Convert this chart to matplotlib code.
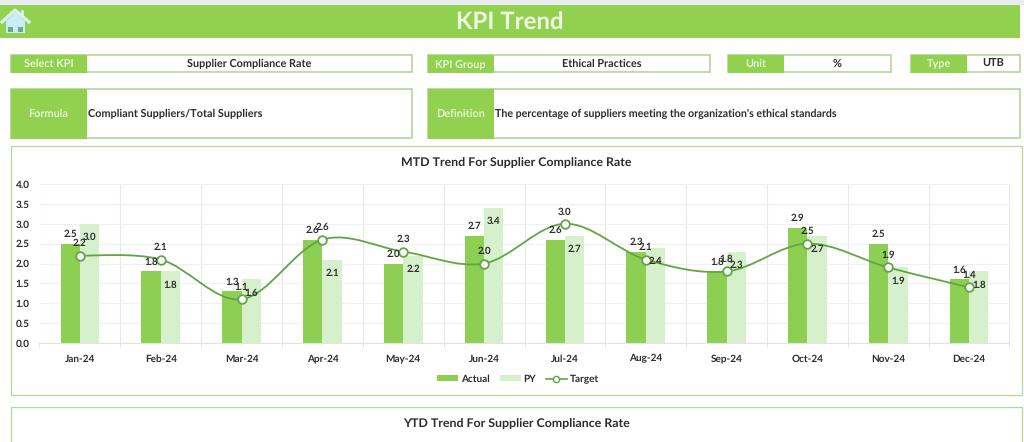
import matplotlib
matplotlib.use('Agg')
import matplotlib.pyplot as plt
from matplotlib.lines import Line2D
from matplotlib.patches import PathPatch, Polygon, Rectangle
from matplotlib.path import Path
import numpy as np

plt.rcParams['font.family'] = ['Lato', 'DejaVu Sans']
plt.rcParams['text.hinting'] = 'none'

months = ['Jan-24', 'Feb-24', 'Mar-24', 'Apr-24', 'May-24', 'Jun-24',
          'Jul-24', 'Aug-24', 'Sep-24', 'Oct-24', 'Nov-24', 'Dec-24']
actual = [2.5, 1.8, 1.3, 2.6, 2.0, 2.7, 2.6, 2.3, 1.8, 2.9, 2.5, 1.6]
py = [3.0, 1.8, 1.6, 2.1, 2.2, 3.4, 2.7, 2.4, 2.3, 2.7, 1.9, 1.8]
target = [2.2, 2.1, 1.1, 2.6, 2.3, 2.0, 3.0, 2.1, 1.8, 2.5, 1.9, 1.4]
y_ticks = [0.0, 0.5, 1.0, 1.5, 2.0, 2.5, 3.0, 3.5, 4.0]

GREEN = '#92d050'
BORDER = '#b5d69c'
ACTUAL_C = '#8ccf52'
PY_C = '#d6f0cc'
LINE_C = '#62a544'
TEXT_C = '#2b2b2b'

W, H = 1024, 442


def smooth_path(xs, ys):
    # same cubic segments a spreadsheet uses for a smoothed line
    verts = [(xs[0], ys[0])]
    codes = [Path.MOVETO]
    n = len(xs)
    for i in range(n - 1):
        a, b = max(i - 1, 0), min(i + 2, n - 1)
        verts.append((xs[i] + (xs[i + 1] - xs[a]) / 6, ys[i] + (ys[i + 1] - ys[a]) / 6))
        verts.append((xs[i + 1] - (xs[b] - xs[i]) / 6, ys[i + 1] - (ys[b] - ys[i]) / 6))
        verts.append((xs[i + 1], ys[i + 1]))
        codes += [Path.CURVE4] * 3
    return Path(verts, codes)


def field(page, x0, x1, split, y0, y1, label, value, left_align=False, size=7.8):
    page.add_patch(Rectangle((x0, y0), x1 - x0, y1 - y0, fc='white', ec=BORDER, lw=1.2))
    page.add_patch(Rectangle((x0, y0), split - x0, y1 - y0, fc=GREEN, ec=GREEN, lw=0.8))
    page.text((x0 + split) / 2, (y0 + y1) / 2 + 0.5, label, color='#e4f5d4', fontsize=7.8,
              fontweight='bold', ha='center', va='center')
    if left_align:
        page.text(split + 2, (y0 + y1) / 2 + 0.5, value, color=TEXT_C, fontsize=size,
                  fontweight='bold', ha='left', va='center')
    else:
        page.text((split + x1) / 2, (y0 + y1) / 2 + 0.5, value, color=TEXT_C, fontsize=size,
                  fontweight='bold', ha='center', va='center')


fig = plt.figure(figsize=(W / 100, H / 100), dpi=100, facecolor='white')

# page layer in pixel coordinates, y going down
page = fig.add_axes([0, 0, 1, 1])
page.set_xlim(0, W)
page.set_ylim(H, 0)
page.axis('off')

page.add_patch(Rectangle((0, 0), W, 5, fc='#e8ecef', ec='none'))
page.add_patch(Rectangle((0, 5), 1020, 33, fc=GREEN, ec='none'))
page.text(510, 23, 'KPI Trend', color='#eef8e4', fontsize=17.3, fontweight='bold',
          ha='center', va='center')

# home icon
page.add_patch(Polygon([(6, 21), (15, 12), (25, 21), (25, 33), (6, 33)], fc='#c9edf2', ec='none'))
page.add_line(Line2D([2, 15, 29], [22, 10, 22], color='#d8f0ee', lw=2.4))
page.add_line(Line2D([22, 22], [11, 16], color='#d8f0ee', lw=2))
page.add_patch(Rectangle((8, 27), 5, 5, fc='#6da892', ec='none'))
page.add_patch(Rectangle((18, 27), 5, 5, fc='#6da892', ec='none'))

field(page, 11, 412, 86, 55, 72, 'Select KPI', 'Supplier Compliance Rate')
field(page, 428, 710, 493, 55, 72, 'KPI Group', 'Ethical Practices')
field(page, 728, 891, 783, 55, 72, 'Unit', '%')
field(page, 911, 1020, 966, 55, 72, 'Type', 'UTB')
field(page, 11, 412, 86, 89, 138, 'Formula', 'Compliant Suppliers/Total Suppliers', True)
field(page, 428, 1020, 493, 89, 138, 'Definition',
      "The percentage of suppliers meeting the organization's ethical standards", True, size=7.7)

page.add_patch(Rectangle((11, 146), 1011, 249, fc='white', ec=BORDER, lw=0.9))
page.add_patch(Rectangle((11, 407), 1011, 60, fc='white', ec=BORDER, lw=0.9))
page.text(516, 163, 'MTD Trend For Supplier Compliance Rate', color=TEXT_C, fontsize=8.9,
          fontweight='bold', ha='center', va='center')
page.text(516, 424, 'YTD Trend For Supplier Compliance Rate', color=TEXT_C, fontsize=8.9,
          fontweight='bold', ha='center', va='center')

# chart
ax = fig.add_axes([39.5 / W, 1 - 343 / H, 970 / W, 159 / H], facecolor='none')
x = np.arange(len(months))
bar_w = 0.24
bars_a = ax.bar(x - bar_w / 2, actual, bar_w, color=ACTUAL_C, label='Actual', zorder=2)
bars_p = ax.bar(x + bar_w / 2, py, bar_w, color=PY_C, label='PY', zorder=2)
ax.add_patch(PathPatch(smooth_path(x, target), fc='none', ec=LINE_C, lw=1.3, zorder=3))
ax.plot(x, target, ls='none', marker='o', ms=6.2, mfc='white', mec=LINE_C, mew=1.3, zorder=4)

ax.bar_label(bars_a, fmt='%.1f', padding=3.5, fontsize=7, fontweight='bold', color=TEXT_C, zorder=5)
ax.bar_label(bars_p, fmt='%.1f', label_type='edge', padding=-13, fontsize=7,
             fontweight='bold', color=TEXT_C, zorder=5)
for xi, yi in zip(x, target):
    ax.annotate(f'{yi:.1f}', (xi, yi), xytext=(0, 5.5), textcoords='offset points', ha='center',
                va='bottom', fontsize=7, fontweight='bold', color=TEXT_C, zorder=5)

ax.set_xlim(-0.5, 11.5)
ax.set_ylim(0, 4)
ax.set_yticks(y_ticks)
ax.set_yticklabels([f'{v:.1f}' for v in y_ticks], fontsize=7.2, fontweight='bold', color=TEXT_C)
ax.set_xticks(x)
ax.set_xticklabels(months, fontsize=7.2, fontweight='bold', color=TEXT_C)
ax.set_xticks(np.arange(-0.5, 12), minor=True)
ax.tick_params(axis='x', which='major', length=0, pad=8)
ax.tick_params(axis='x', which='minor', length=3, color='#e2e2e2')
ax.tick_params(axis='y', length=0, pad=7)
ax.grid(axis='y', color='#f0f0f0', lw=0.9, zorder=0)
ax.grid(axis='x', which='minor', color='#e8e8e8', lw=0.8, zorder=0)
ax.set_axisbelow(True)
for name in ['top', 'right', 'left']:
    ax.spines[name].set_visible(False)
ax.spines['bottom'].set_color('#e2e2e2')

handles = [Rectangle((0, 0), 1, 1, fc=ACTUAL_C), Rectangle((0, 0), 1, 1, fc=PY_C),
           Line2D([0], [0], color=LINE_C, lw=1.2, marker='o', ms=4.5, mfc='white', mec=LINE_C)]
fig.legend(handles, ['Actual', 'PY', 'Target'], loc='center', ncol=3,
           bbox_to_anchor=(518 / W, 1 - 379 / H), frameon=False, handlelength=2.1,
           handleheight=0.5, handletextpad=0.25, columnspacing=1.0,
           prop={'size': 7.2, 'weight': 'bold'}, labelcolor=TEXT_C)

fig.savefig('out.png', dpi=100)
